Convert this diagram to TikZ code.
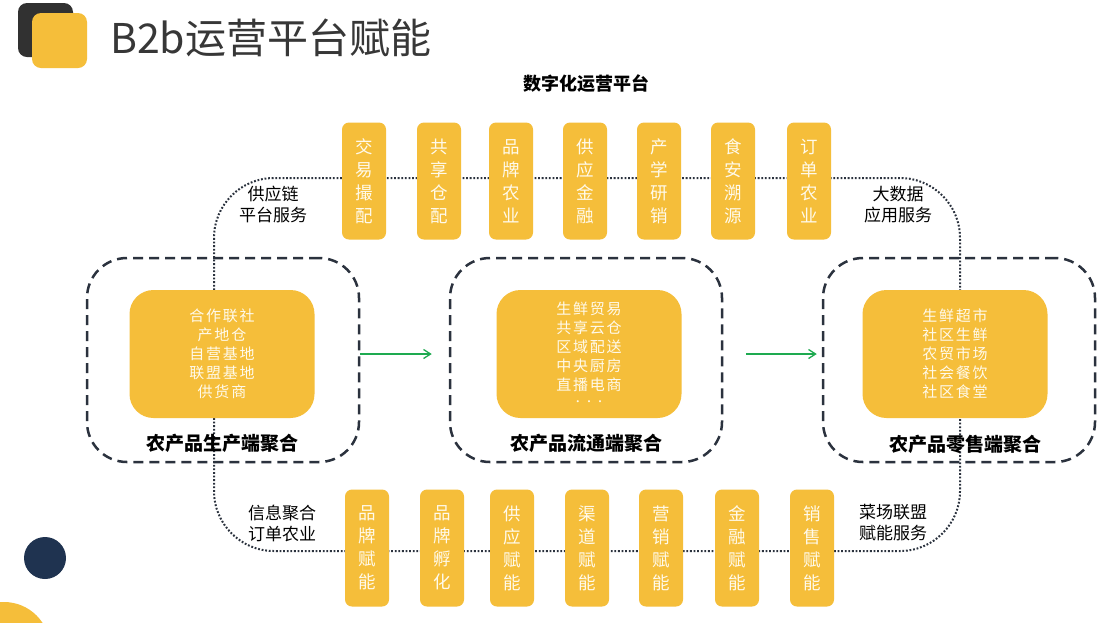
\documentclass[tikz,border=0pt]{standalone}
\usetikzlibrary{arrows.meta}
\usepackage{fontspec}
\setmainfont{Noto Sans CJK SC}
\newfontfamily\cjkspaced[LetterSpace=12]{Noto Sans CJK SC}
\definecolor{ybox}{RGB}{245,190,58}
\definecolor{dgray}{RGB}{43,50,62}
\definecolor{tgray}{RGB}{55,55,55}
\definecolor{navy}{RGB}{31,51,80}
\definecolor{agreen}{RGB}{30,170,80}
\definecolor{boxtext}{RGB}{255,250,235}
\begin{document}
\begin{tikzpicture}[x=1pt,y=-1pt,
  vbox/.style={fill=ybox, rounded corners=7pt, minimum width=44pt, minimum height=117pt, inner sep=0pt, text=boxtext, font=\fontsize{17.5}{23}\selectfont, align=center},
  grp/.style={draw=dgray, line width=2.5pt, dash pattern=on 10pt off 6pt, rounded corners=40pt, minimum width=272pt, minimum height=204pt, inner sep=0pt},
  inbox/.style={fill=ybox, rounded corners=24pt, minimum width=185pt, minimum height=128pt, inner sep=0pt, text=boxtext, align=center, font=\cjkspaced\fontsize{15}{19}\selectfont},
  glabel/.style={font=\bfseries\fontsize{19}{22}\selectfont, text=black, inner sep=0pt},
  side/.style={font=\fontsize{17}{21}\selectfont, text=black, align=center, inner sep=0pt},
  loopline/.style={draw=dgray, line width=2pt, dash pattern=on 1.8pt off 1.8pt, rounded corners=60pt},
  flow/.style={draw=agreen, line width=1.3pt, -{Straight Barb[length=7pt,width=9pt]}},
]
\useasboundingbox (0,0) rectangle (1115,622);
\clip (0,0) rectangle (1115,622);
\fill[white] (0,0) rectangle (1115,622);

% decorations
\fill[tgray!90!black, rounded corners=9pt] (18,3) rectangle (73,57);
\fill[ybox, rounded corners=9pt] (32,13) rectangle (87,68);
\node[anchor=west, text=tgray, font=\fontsize{41}{44}\selectfont, inner sep=0pt] (title) at (110,38) {B2b运营平台赋能};
\fill[navy] (45,558) circle (21);
\fill[ybox] (4,648) circle (46);

% dotted loop
\coordinate (lt) at (214,178);
\coordinate (rb) at (960,551);
\draw[loopline] (lt) rectangle (rb);

\node[font=\bfseries\fontsize{18}{22}\selectfont, inner sep=0pt] (plat) at (586,84) {数字化运营平台};

% top boxes
\node[vbox] (t1) at (364,181) {交\\易\\撮\\配};
\node[vbox] (t2) at (439,181) {共\\享\\仓\\配};
\node[vbox] (t3) at (511,181) {品\\牌\\农\\业};
\node[vbox] (t4) at (585,181) {供\\应\\金\\融};
\node[vbox] (t5) at (659,181) {产\\学\\研\\销};
\node[vbox] (t6) at (733,181) {食\\安\\溯\\源};
\node[vbox] (t7) at (809,181) {订\\单\\农\\业};

% bottom boxes
\node[vbox] (b1) at (367,548) {品\\牌\\赋\\能};
\node[vbox] (b2) at (442,548) {品\\牌\\孵\\化};
\node[vbox] (b3) at (512,548) {供\\应\\赋\\能};
\node[vbox] (b4) at (587,548) {渠\\道\\赋\\能};
\node[vbox] (b5) at (661,548) {营\\销\\赋\\能};
\node[vbox] (b6) at (737,548) {金\\融\\赋\\能};
\node[vbox] (b7) at (812,548) {销\\售\\赋\\能};

% side labels
\node[side] (s1) at (273,204) {供应链\\平台服务};
\node[side] (s2) at (898,205) {大数据\\应用服务};
\node[side] (s3) at (282,523) {信息聚合\\订单农业};
\node[side] (s4) at (893,523) {菜场联盟\\赋能服务};

% groups
\node[grp] (g1) at (223,360) {};
\node[grp] (g2) at (586,360) {};
\node[grp] (g3) at (959,360) {};

\node[inbox] (i1) at (222,354) {合作联社\\产地仓\\自营基地\\联盟基地\\供货商};
\node[inbox] (i2) at (589,354) {生鲜贸易\\共享云仓\\区域配送\\中央厨房\\直播电商\\[-4pt]{\fontsize{10}{10}\selectfont ···}};
\node[inbox] (i3) at (955,354) {生鲜超市\\社区生鲜\\农贸市场\\社会餐饮\\社区食堂};

\node[glabel] (l1) at (222,443) {农产品生产端聚合};
\node[glabel] (l2) at (586,443) {农产品流通端聚合};
\node[glabel] (l3) at (965,444) {农产品零售端聚合};

% arrows
\draw[flow, shorten >=17pt] (g1.east |- i1.east) -- (g2.west |- i2.west);
\draw[flow, shorten <=23pt, shorten >=5pt] (g2.east |- i2.east) -- (g3.west |- i3.west);
\end{tikzpicture}
\end{document}
